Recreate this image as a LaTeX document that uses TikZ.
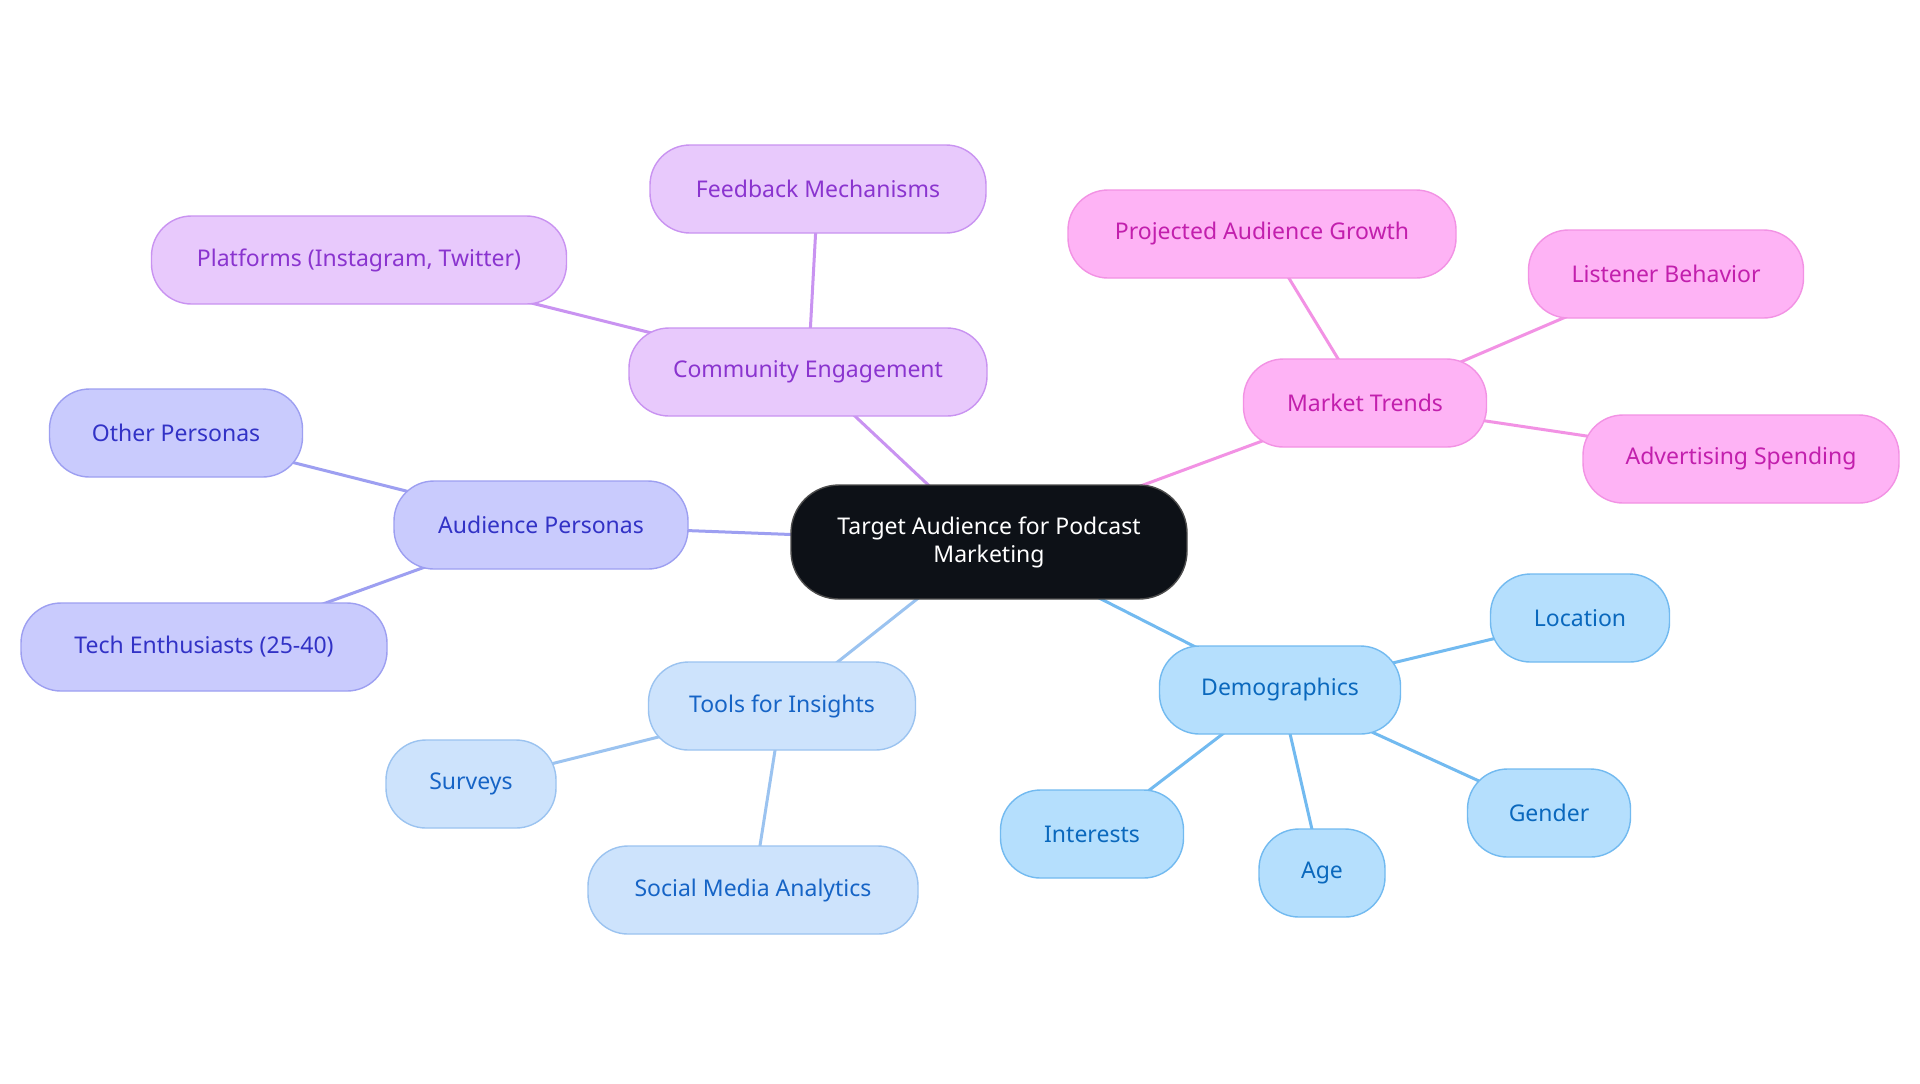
\documentclass[tikz,border=0pt]{standalone}
\usepackage{fontspec}
\setmainfont{Noto Sans}
\pgfdeclarelayer{background}
\pgfsetlayers{background,main}
\begin{document}
\begin{tikzpicture}[x=0.5pt,y=-0.5pt,
  box/.style={draw, line width=0.7pt, rounded corners=20pt, minimum height=44pt, inner sep=0pt, align=center, font=\fontsize{11.5}{14}\selectfont},
  purp/.style={box, fill=purpfill, draw=purpline, text=purptext},
  pink/.style={box, fill=pinkfill, draw=pinkline, text=pinktext},
  demo/.style={box, fill=demofill, draw=demoline, text=demotext},
  tool/.style={box, fill=toolfill, draw=toolline, text=tooltext},
  pers/.style={box, fill=persfill, draw=persline, text=perstext},
  link/.style={line width=1.5pt}
]
\definecolor{purpfill}{HTML}{E8C9FC}
\definecolor{purpline}{HTML}{C993F1}
\definecolor{purptext}{HTML}{8A34CF}
\definecolor{pinkfill}{HTML}{FEB3F5}
\definecolor{pinkline}{HTML}{F292E4}
\definecolor{pinktext}{HTML}{C21FAD}
\definecolor{demofill}{HTML}{B5DFFD}
\definecolor{demoline}{HTML}{72BAF0}
\definecolor{demotext}{HTML}{0A68BD}
\definecolor{toolfill}{HTML}{CDE3FC}
\definecolor{toolline}{HTML}{9BC3F0}
\definecolor{tooltext}{HTML}{1664C6}
\definecolor{persfill}{HTML}{C9CBFD}
\definecolor{persline}{HTML}{9D9FF1}
\definecolor{perstext}{HTML}{3232C6}
\definecolor{centerfill}{HTML}{0D1117}

\begin{pgfonlayer}{background}
\fill[white] (0,0) rectangle (1920,1083);
\end{pgfonlayer}
\useasboundingbox (0,0) rectangle (1920,1083);

% nodes
\node[box, fill=centerfill, draw=black!70, text=white, minimum width=198pt, minimum height=57pt, rounded corners=24pt] (c) at (989,542) {Target Audience for Podcast\\Marketing};

\node[purp, minimum width=179pt] (ce) at (808,372) {Community Engagement};
\node[purp, minimum width=168pt] (fm) at (818,189) {Feedback Mechanisms};
\node[purp, minimum width=207.5pt] (pl) at (359,260) {Platforms (Instagram, Twitter)};

\node[pers, minimum width=147pt] (ap) at (541,525) {Audience Personas};
\node[pers, minimum width=126.5pt] (op) at (176,433) {Other Personas};
\node[pers, minimum width=183pt] (te) at (204,647) {Tech Enthusiasts (25-40)};

\node[tool, minimum width=133.5pt] (ti) at (782,706) {Tools for Insights};
\node[tool, minimum width=85pt] (sv) at (471,784) {Surveys};
\node[tool, minimum width=165pt] (sm) at (753,890) {Social Media Analytics};

\node[demo, minimum width=120.5pt] (de) at (1280,690) {Demographics};
\node[demo, minimum width=89.5pt] (lo) at (1580,618) {Location};
\node[demo, minimum width=81.5pt] (ge) at (1549,813) {Gender};
\node[demo, minimum width=63pt] (ag) at (1322,873) {Age};
\node[demo, minimum width=91.5pt] (in) at (1092,834) {Interests};

\node[pink, minimum width=121.5pt] (mt) at (1365,403) {Market Trends};
\node[pink, minimum width=194pt] (pg) at (1262,234) {Projected Audience Growth};
\node[pink, minimum width=137.5pt] (lb) at (1666,274) {Listener Behavior};
\node[pink, minimum width=158pt] (as) at (1741,459) {Advertising Spending};

% connectors (behind nodes, centre to centre)
\begin{pgfonlayer}{background}
\draw[link, purpline] (c.center) -- (ce.center);
\draw[link, purpline] (ce.center) -- (fm.center);
\draw[link, purpline] (ce.center) -- (pl.center);
\draw[link, persline] (c.center) -- (ap.center);
\draw[link, persline] (ap.center) -- (op.center);
\draw[link, persline] (ap.center) -- (te.center);
\draw[link, toolline] (c.center) -- (ti.center);
\draw[link, toolline] (ti.center) -- (sv.center);
\draw[link, toolline] (ti.center) -- (sm.center);
\draw[link, demoline] (c.center) -- (de.center);
\draw[link, demoline] (de.center) -- (lo.center);
\draw[link, demoline] (de.center) -- (ge.center);
\draw[link, demoline] (de.center) -- (ag.center);
\draw[link, demoline] (de.center) -- (in.center);
\draw[link, pinkline] (c.center) -- (mt.center);
\draw[link, pinkline] (mt.center) -- (pg.center);
\draw[link, pinkline] (mt.center) -- (lb.center);
\draw[link, pinkline] (mt.center) -- (as.center);
\end{pgfonlayer}
\end{tikzpicture}
\end{document}
